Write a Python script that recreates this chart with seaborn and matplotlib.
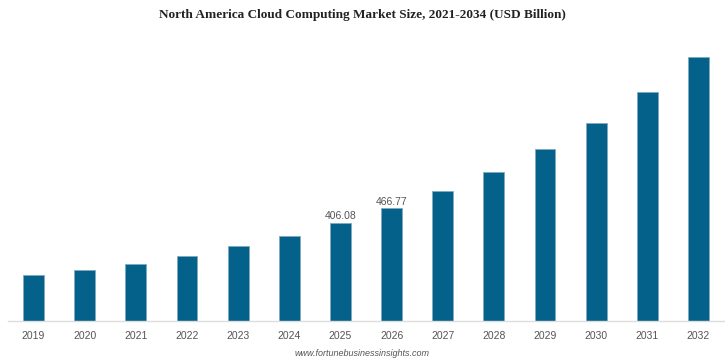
import matplotlib
matplotlib.use("Agg")
import matplotlib.pyplot as plt
import pandas as pd
import seaborn as sns

years = ["2019", "2020", "2021", "2022", "2023", "2024", "2025",
         "2026", "2027", "2028", "2029", "2030", "2031", "2032"]
market_size = [190, 211, 236, 269, 310, 352, 406.08,
               466.77, 538, 617, 712, 819, 947, 1092]
labelled_years = ["2025", "2026"]

BAR_COLOR = "#04628A"

sns.set_theme(style="white")
plt.rcParams["font.family"] = ["Liberation Sans", "DejaVu Sans"]

df = pd.DataFrame({"year": years, "size": market_size})

fig = plt.figure(figsize=(7.25, 3.62), dpi=100)
ax = fig.add_axes([8 / 725, 1 - 321 / 362, 716 / 725, 281 / 362])
sns.barplot(data=df, x="year", y="size", color=BAR_COLOR, width=0.41,
            saturation=1, ax=ax, edgecolor="#7fa9bf", linewidth=0.6)

for i, (yr, val) in enumerate(zip(years, market_size)):
    if yr in labelled_years:
        ax.text(i, val + 6, f"{val:.2f}", ha="center", va="bottom",
                fontsize=7.5, color="#555555")

ax.set_xlim(-0.5, len(years) - 0.5)
ax.set_ylim(0, 1163)
ax.set_xlabel("")
ax.set_ylabel("")
ax.set_yticks([])
for side in ["top", "right", "left"]:
    ax.spines[side].set_visible(False)
ax.spines["bottom"].set_color("#dddddd")
ax.spines["bottom"].set_linewidth(1)
ax.tick_params(axis="x", length=0, pad=7, labelsize=7.5, labelcolor="#555555")

fig.text(0.5, 1 - 15 / 362, "North America Cloud Computing Market Size, 2021-2034 (USD Billion)",
         ha="center", va="center", fontsize=9.5, fontweight="bold",
         family="Liberation Serif", color="#222222")
fig.text(0.5, 1 - 353 / 362, "www.fortunebusinessinsights.com", ha="center", va="center",
         fontsize=6.5, style="italic", color="#555555")

fig.savefig("out.png", dpi=100)
